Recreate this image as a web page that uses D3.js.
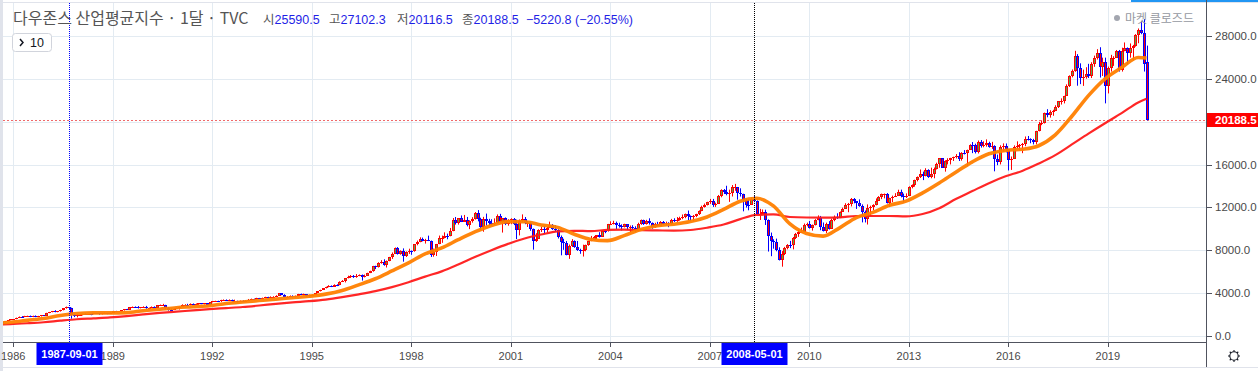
<!DOCTYPE html>
<html>
<head>
<meta charset="utf-8">
<script src="https://cdn.jsdelivr.net/npm/d3@7"></script>
<style>
  body { margin: 0; background: #fff; }
  svg { display: block; font-family: "Liberation Sans", Arial, sans-serif; }
</style>
</head>
<body>
<svg id="chart" width="1258" height="371"></svg>
<script>
// monthly bars, 1985-09 .. 2020-03
const firstMonth = new Date(1985, 8, 1);

const opens = [
  1334, 1329, 1374, 1472,
  1547, 1571, 1709, 1819, 1784, 1877, 1893, 1775, 1898, 1768, 1878, 1914,
  1896, 2158, 2224, 2305, 2286, 2292, 2419, 2572, 2663, 2596, 1994, 1834,
  1939, 1958, 2072, 1988, 2032, 2031, 2142, 2129, 2032, 2113, 2149, 2115,
  2169, 2342, 2258, 2294, 2419, 2480, 2440, 2661, 2737, 2693, 2645, 2706,
  2753, 2591, 2628, 2707, 2657, 2877, 2881, 2905, 2614, 2453, 2442, 2560,
  2634, 2736, 2882, 2914, 2888, 3028, 2907, 3025, 3044, 3017, 3069, 2895,
  3169, 3224, 3267, 3236, 3359, 3397, 3319, 3394, 3257, 3272, 3226, 3306,
  3301, 3310, 3371, 3435, 3428, 3527, 3516, 3540, 3651, 3555, 3681, 3684,
  3754, 3978, 3832, 3636, 3682, 3758, 3625, 3765, 3913, 3843, 3908, 3739,
  3834, 3844, 4011, 4158, 4321, 4465, 4556, 4709, 4611, 4789, 4756, 5075,
  5117, 5395, 5486, 5588, 5569, 5643, 5655, 5529, 5616, 5882, 6029, 6522,
  6448, 6813, 6878, 6584, 7009, 7331, 7673, 8223, 7622, 7945, 7442, 7823,
  7908, 7907, 8546, 8800, 9063, 8900, 8952, 8883, 7539, 7843, 8592, 9117,
  9181, 9359, 9307, 9786, 10789, 10560, 10971, 10655, 10829, 10337, 10729, 10878,
  11497, 10941, 10128, 10922, 10734, 10522, 10448, 10522, 11215, 10651, 10971, 10415,
  10788, 10887, 10495, 9879, 10735, 10912, 10502, 10523, 9950, 8848, 9075, 9852,
  10022, 9920, 10106, 10404, 9946, 9925, 9243, 8737, 8664, 7592, 8397, 8896,
  8342, 8054, 7891, 7992, 8480, 8850, 8985, 9234, 9416, 9275, 9801, 9782,
  10454, 10488, 10584, 10358, 10226, 10188, 10435, 10140, 10174, 10080, 10027, 10428,
  10783, 10490, 10766, 10504, 10193, 10467, 10275, 10641, 10482, 10569, 10440, 10806,
  10718, 10865, 10993, 11109, 11367, 11168, 11150, 11186, 11381, 11679, 12081, 12222,
  12463, 12622, 12269, 12354, 13063, 13628, 13409, 13212, 13358, 13896, 13930, 13372,
  13262, 12650, 12266, 12263, 12820, 12638, 11350, 11378, 11544, 10851, 9325, 8829,
  8776, 8001, 7063, 7609, 8168, 8500, 8447, 9172, 9496, 9712, 9713, 10345,
  10428, 10067, 10325, 10857, 11009, 10137, 9774, 10466, 10015, 10788, 11118, 11006,
  11578, 11892, 12226, 12320, 12811, 12570, 12414, 12143, 11614, 10913, 11955, 12046,
  12218, 12633, 12952, 13212, 13214, 12393, 12880, 13009, 13091, 13437, 13096, 13026,
  13104, 13861, 14054, 14579, 14840, 15116, 14910, 15500, 14810, 15130, 15546, 16086,
  16577, 15699, 16322, 16458, 16581, 16717, 16827, 16563, 17098, 17043, 17391, 17828,
  17823, 17165, 18133, 17776, 17841, 18011, 17620, 17690, 16528, 16285, 17664, 17720,
  17425, 16466, 16517, 17685, 17774, 17787, 17930, 18432, 18401, 18308, 18142, 19124,
  19763, 19864, 20812, 20663, 20941, 21009, 21350, 21891, 21948, 22405, 23377, 24272,
  24719, 26149, 25029, 24103, 24163, 24416, 24271, 25415, 25965, 26458, 25116, 25538,
  23327, 24999, 25916, 25929, 26593, 24815, 26600, 26864, 26403, 26917, 27046, 28051,
  28538, 28256, 25590.5
];

const highs = [
  1343, 1391, 1476, 1553,
  1571, 1714, 1822, 1856, 1882, 1894, 1910, 1900, 1920, 1880, 1916, 1955,
  2164, 2247, 2335, 2405, 2316, 2446, 2593, 2747, 2663, 2640, 2012, 2013,
  2056, 2075, 2114, 2048, 2061, 2159, 2159, 2147, 2131, 2183, 2150, 2181,
  2345, 2347, 2302, 2423, 2502, 2531, 2661, 2752, 2763, 2791, 2706, 2771,
  2810, 2655, 2759, 2766, 2879, 2935, 3000, 2911, 2680, 2562, 2583, 2650,
  2736, 2955, 2966, 3005, 3041, 3035, 3035, 3055, 3050, 3078, 3072, 3173,
  3272, 3290, 3290, 3378, 3413, 3413, 3414, 3398, 3393, 3296, 3313, 3333,
  3343, 3455, 3492, 3491, 3564, 3555, 3582, 3660, 3660, 3699, 3714, 3801,
  3990, 3996, 3898, 3718, 3786, 3794, 3775, 3933, 3953, 3950, 3915, 3863,
  3897, 4016, 4176, 4321, 4480, 4600, 4742, 4721, 4824, 4828, 5106, 5216,
  5404, 5630, 5690, 5690, 5778, 5745, 5741, 5733, 5904, 6094, 6547, 6561,
  6883, 7079, 7158, 7043, 7383, 7796, 8259, 8300, 7997, 8178, 7897, 8149,
  7982, 8587, 8906, 9211, 9185, 9069, 9367, 8912, 8154, 8592, 9374, 9374,
  9674, 9557, 10085, 11014, 11108, 10982, 11252, 11299, 11111, 10800, 11089, 11569,
  11750, 11041, 11119, 11426, 10936, 10898, 10976, 11350, 11401, 11011, 11068, 10899,
  10987, 11013, 10858, 10876, 11351, 11105, 10715, 10615, 10033, 9594, 9963, 10190,
  10259, 10171, 10673, 10447, 10342, 9966, 9379, 9077, 8868, 8538, 9043, 8926,
  8869, 8144, 8522, 8524, 8864, 9340, 9337, 9428, 9687, 9837, 9858, 10462,
  10702, 10754, 10678, 10571, 10420, 10479, 10435, 10316, 10341, 10239, 10572, 10868,
  10854, 10842, 10984, 10600, 10570, 10656, 10720, 10730, 10679, 10619, 10931, 10988,
  11100, 11134, 11342, 11425, 11709, 11250, 11292, 11410, 11724, 12163, 12361, 12529,
  12796, 12795, 12448, 13163, 13693, 13718, 14022, 13658, 14087, 14198, 13824, 13786,
  13280, 12815, 12761, 12920, 13136, 12657, 11866, 11808, 11790, 10882, 9654, 9026,
  9088, 8280, 7924, 8318, 8574, 8877, 9244, 9621, 9917, 10119, 10496, 10580,
  10730, 10402, 10908, 11258, 11205, 10595, 10584, 10720, 10948, 11247, 11452, 11625,
  11984, 12391, 12419, 12876, 12876, 12571, 12753, 12284, 11716, 12284, 12163, 12299,
  12842, 13055, 13290, 13297, 13339, 12899, 13103, 13330, 13653, 13662, 13289, 13311,
  13970, 14149, 14585, 14888, 15542, 15340, 15658, 15560, 15709, 15721, 16175, 16589,
  16588, 16399, 16588, 16632, 16736, 16978, 17152, 17154, 17350, 17395, 17895, 18103,
  17951, 18244, 18289, 18175, 18351, 18137, 18120, 17800, 16933, 17799, 17978, 17969,
  17425, 16756, 17790, 18168, 17920, 18016, 18623, 18668, 18450, 18400, 19152, 19987,
  20126, 20851, 21169, 21070, 21113, 21535, 21929, 22179, 22420, 23486, 24328, 24876,
  26617, 26307, 25450, 24858, 25086, 25403, 25551, 26167, 26770, 26952, 25980, 25980,
  25150, 26242, 26110, 26695, 26696, 26908, 27398, 26933, 27306, 27169, 28175, 28702,
  29374, 29568, 27102.3
];

const lows = [
  1297, 1324, 1370, 1457,
  1502, 1569, 1686, 1737, 1758, 1827, 1763, 1763, 1755, 1758, 1816, 1874,
  1895, 2131, 2214, 2216, 2215, 2278, 2394, 2545, 2493, 1616, 1767, 1739,
  1879, 1925, 1976, 1967, 1941, 2028, 2073, 1990, 2015, 2093, 2038, 2093,
  2144, 2241, 2238, 2283, 2371, 2437, 2432, 2644, 2654, 2569, 2577, 2677,
  2543, 2564, 2622, 2599, 2639, 2843, 2859, 2483, 2365, 2344, 2431, 2553,
  2470, 2714, 2830, 2869, 2857, 2906, 2905, 2900, 2963, 2944, 2860, 2836,
  3144, 3197, 3208, 3181, 3332, 3264, 3260, 3216, 3250, 3136, 3195, 3236,
  3240, 3307, 3346, 3343, 3419, 3461, 3469, 3522, 3532, 3543, 3615, 3676,
  3744, 3810, 3566, 3556, 3645, 3606, 3611, 3748, 3826, 3792, 3680, 3673,
  3822, 3836, 3999, 4158, 4299, 4437, 4550, 4566, 4600, 4656, 4737, 5039,
  5000, 5375, 5417, 5423, 5438, 5586, 5170, 5466, 5602, 5868, 6001, 6242,
  6391, 6748, 6561, 6392, 6976, 7197, 7660, 7601, 7589, 6937, 7376, 7659,
  7580, 7867, 8466, 8750, 8836, 8627, 8858, 7379, 7400, 7467, 8568, 8695,
  9120, 9028, 9306, 9778, 10398, 10397, 10635, 10646, 10232, 9976, 10581, 10869,
  10701, 9862, 9731, 10305, 10299, 10368, 10358, 10477, 10582, 9654, 10351, 10298,
  10434, 10349, 9047, 9390, 10668, 10433, 10175, 9817, 8062, 8785, 9056, 9708,
  9529, 9679, 10100, 9900, 9751, 9100, 7532, 8043, 7528, 7197, 8303, 8232,
  7946, 7673, 7416, 7905, 8421, 8850, 8940, 9032, 9186, 9264, 9594, 9739,
  10368, 10413, 9990, 10120, 9853, 10134, 9913, 9708, 9988, 9708, 10016, 10375,
  10368, 10398, 10402, 10012, 10094, 10252, 10255, 10387, 10349, 10156, 10395, 10640,
  10653, 10767, 10900, 10994, 10826, 10699, 10706, 11092, 11292, 11650, 11986, 12184,
  12330, 12050, 12050, 12332, 12946, 13251, 13133, 12518, 13019, 13551, 12724, 13017,
  11635, 11988, 11731, 12251, 12480, 11288, 10827, 11363, 10365, 7882, 7449, 8149,
  7909, 7050, 6470, 7550, 8088, 8200, 8087, 9049, 9252, 9674, 9678, 10236,
  10026, 9835, 10320, 10803, 9870, 9757, 9614, 9937, 10001, 10710, 10930, 11004,
  11578, 11853, 11555, 12093, 12381, 11862, 12063, 10604, 10597, 10404, 11231, 11735,
  12190, 12623, 12775, 12846, 12367, 12035, 12492, 12977, 13090, 12938, 12471, 12883,
  13090, 13784, 13937, 14434, 14746, 14551, 14903, 14761, 14719, 14720, 15545, 15703,
  15699, 15340, 16016, 16015, 16334, 16571, 16333, 16368, 16945, 15855, 17365, 17068,
  17037, 17037, 17585, 17613, 17673, 17576, 17465, 15370, 15942, 16013, 17211, 17139,
  15450, 15503, 16545, 17484, 17331, 17063, 17713, 18247, 17992, 17883, 17884, 19098,
  19677, 19832, 20412, 20379, 20554, 20994, 21279, 21600, 21709, 22416, 23242, 24140,
  24660, 23360, 23509, 23345, 24013, 24079, 24077, 25123, 25804, 24122, 24268, 21713,
  22639, 24680, 25209, 25946, 24680, 24680, 26580, 25339, 25980, 25743, 27005, 27325,
  28169, 24681, 20116.5
];

const closes = [
  1329, 1374, 1472, 1547,
  1571, 1709, 1819, 1784, 1877, 1893, 1775, 1898, 1768, 1878, 1914, 1896,
  2158, 2224, 2305, 2286, 2292, 2419, 2572, 2663, 2596, 1994, 1834, 1939,
  1958, 2072, 1988, 2032, 2031, 2142, 2129, 2032, 2113, 2149, 2115, 2169,
  2342, 2258, 2294, 2419, 2480, 2440, 2661, 2737, 2693, 2645, 2706, 2753,
  2591, 2628, 2707, 2657, 2877, 2881, 2905, 2614, 2453, 2442, 2560, 2634,
  2736, 2882, 2914, 2888, 3028, 2907, 3025, 3044, 3017, 3069, 2895, 3169,
  3224, 3267, 3236, 3359, 3397, 3319, 3394, 3257, 3272, 3226, 3306, 3301,
  3310, 3371, 3435, 3428, 3527, 3516, 3540, 3651, 3555, 3681, 3684, 3754,
  3978, 3832, 3636, 3682, 3758, 3625, 3765, 3913, 3843, 3908, 3739, 3834,
  3844, 4011, 4158, 4321, 4465, 4556, 4709, 4611, 4789, 4756, 5075, 5117,
  5395, 5486, 5588, 5569, 5643, 5655, 5529, 5616, 5882, 6029, 6522, 6448,
  6813, 6878, 6584, 7009, 7331, 7673, 8223, 7622, 7945, 7442, 7823, 7908,
  7907, 8546, 8800, 9063, 8900, 8952, 8883, 7539, 7843, 8592, 9117, 9181,
  9359, 9307, 9786, 10789, 10560, 10971, 10655, 10829, 10337, 10729, 10878, 11497,
  10941, 10128, 10922, 10734, 10522, 10448, 10522, 11215, 10651, 10971, 10415, 10788,
  10887, 10495, 9879, 10735, 10912, 10502, 10523, 9950, 8848, 9075, 9852, 10022,
  9920, 10106, 10404, 9946, 9925, 9243, 8737, 8664, 7592, 8397, 8896, 8342,
  8054, 7891, 7992, 8480, 8850, 8985, 9234, 9416, 9275, 9801, 9782, 10454,
  10488, 10584, 10358, 10226, 10188, 10435, 10140, 10174, 10080, 10027, 10428, 10783,
  10490, 10766, 10504, 10193, 10467, 10275, 10641, 10482, 10569, 10440, 10806, 10718,
  10865, 10993, 11109, 11367, 11168, 11150, 11186, 11381, 11679, 12081, 12222, 12463,
  12622, 12269, 12354, 13063, 13628, 13409, 13212, 13358, 13896, 13930, 13372, 13265,
  12650, 12266, 12263, 12820, 12638, 11350, 11378, 11544, 10851, 9325, 8829, 8776,
  8001, 7063, 7609, 8168, 8500, 8447, 9172, 9496, 9712, 9713, 10345, 10428,
  10067, 10325, 10857, 11009, 10137, 9774, 10466, 10015, 10788, 11118, 11006, 11578,
  11892, 12226, 12320, 12811, 12570, 12414, 12143, 11614, 10913, 11955, 12046, 12218,
  12633, 12952, 13212, 13214, 12393, 12880, 13009, 13091, 13437, 13096, 13026, 13104,
  13861, 14054, 14579, 14840, 15116, 14910, 15500, 14810, 15130, 15546, 16086, 16577,
  15699, 16322, 16458, 16581, 16717, 16827, 16563, 17098, 17043, 17391, 17828, 17823,
  17165, 18133, 17776, 17841, 18011, 17620, 17690, 16528, 16285, 17664, 17720, 17425,
  16466, 16517, 17685, 17774, 17787, 17930, 18432, 18401, 18308, 18142, 19124, 19763,
  19864, 20812, 20663, 20941, 21009, 21350, 21891, 21948, 22405, 23377, 24272, 24719,
  26149, 25029, 24103, 24163, 24416, 24271, 25415, 25965, 26458, 25116, 25538, 23327,
  24999, 25916, 25929, 26593, 24815, 26600, 26864, 26403, 26917, 27046, 28051, 28538,
  28256, 25409, 20188.5
];

// moving averages (orange = 20, red = 60), every half year
const maMonths = [
  "1985-06","1985-12","1986-06","1986-12","1987-06","1987-12","1988-06","1988-12",
  "1989-06","1989-12","1990-06","1990-12","1991-06","1991-12","1992-06","1992-12",
  "1993-06","1993-12","1994-06","1994-12","1995-06","1995-12","1996-06","1996-12",
  "1997-06","1997-12","1998-06","1998-12","1999-06","1999-12","2000-06","2000-12",
  "2001-06","2001-12","2002-06","2002-12","2003-06","2003-12","2004-06","2004-12",
  "2005-06","2005-12","2006-06","2006-12","2007-06","2007-12","2008-06","2008-12",
  "2009-06","2009-12","2010-06","2010-12","2011-06","2011-12","2012-06","2012-12",
  "2013-06","2013-12","2014-06","2014-12","2015-06","2015-12","2016-06","2016-12",
  "2017-06","2017-12","2018-06","2018-12","2019-06","2019-12","2020-03"
];
const ma20 = [
  1216, 1281, 1459, 1638, 1913, 2098, 2161, 2154,
  2185, 2360, 2500, 2644, 2735, 2831, 3029, 3178,
  3311, 3440, 3577, 3712, 3908, 4246, 4771, 5344,
  6067, 6819, 7671, 8219, 8987, 9712, 10322, 10672,
  10665, 10361, 10137, 9493, 9015, 8901, 9368, 9931,
  10296, 10437, 10677, 11111, 11811, 12580, 12852, 12138,
  10456, 9567, 9321, 10097, 11050, 11541, 12203, 12584,
  13352, 14277, 15293, 16256, 17006, 17324, 17430, 17758,
  18770, 20507, 22439, 24005, 25050, 25993, 25946
];
const ma60 = [
  1063, 1108, 1188, 1285, 1430, 1562, 1649, 1737,
  1859, 2010, 2153, 2273, 2385, 2503, 2605, 2707,
  2847, 2999, 3137, 3251, 3401, 3625, 3892, 4188,
  4563, 5017, 5543, 6031, 6669, 7367, 8006, 8598,
  9099, 9470, 9758, 9819, 9787, 9900, 9925, 9871,
  9854, 9839, 9893, 10105, 10402, 10909, 11304, 11350,
  11108, 11062, 11054, 11075, 11202, 11200, 11199, 11161,
  11384, 11933, 12780, 13528, 14267, 14906, 15405, 16093,
  16882, 17880, 18893, 19862, 20800, 21801, 22147
];

const yTicks = [0, 4000, 8000, 12000, 16000, 20000, 24000, 28000];
const xTickYears = [1986, 1989, 1992, 1995, 1998, 2001, 2004, 2007, 2010, 2013, 2016, 2019];
const crosshairs = [
  { month: "1987-09", label: "1987-09-01", color: "#0000ff" },
  { month: "2008-05", label: "2008-05-01", color: "#000000" }
];
const lastPrice = 20188.5;

// ---------- layout ----------
const W = 1258, H = 371;
const PLOT = { left: 3, right: 1206, top: 3, bottom: 342 };
const UP = "#ff0000", DOWN = "#0000ff", UP_BODY = "#4caf50", DOWN_BODY = "#ff0000";

const monthIndex = s => {
  const [yy, mm] = s.split("-").map(Number);
  return (yy - firstMonth.getFullYear()) * 12 + (mm - 1) - firstMonth.getMonth();
};

const x = d3.scaleLinear().domain([0, 414]).range([2.2, 1146.5]);
const y = d3.scaleLinear().domain([0, 28000]).range([336, 36]);

const svg = d3.select("#chart");

svg.append("defs").append("clipPath").attr("id", "plot")
  .append("rect")
  .attr("x", PLOT.left).attr("y", PLOT.top)
  .attr("width", PLOT.right - PLOT.left).attr("height", PLOT.bottom - PLOT.top);

svg.append("rect").attr("width", W).attr("height", H).attr("fill", "#fff");
svg.append("rect").attr("x", 0).attr("y", 0).attr("width", 3).attr("height", H).attr("fill", "#e0e3eb");
svg.append("line").attr("x1", 3).attr("x2", W).attr("y1", 2.5).attr("y2", 2.5).attr("stroke", "#e0e3eb");
svg.append("rect").attr("x", 1131).attr("y", 0).attr("width", W - 1131).attr("height", 2).attr("fill", "#2196f3");

// grid
const grid = svg.append("g");
grid.selectAll("line.v").data(xTickYears).join("line")
  .attr("x1", d => Math.round(x(monthIndex(d + "-01"))) + 0.5)
  .attr("x2", d => Math.round(x(monthIndex(d + "-01"))) + 0.5)
  .attr("y1", PLOT.top).attr("y2", PLOT.bottom)
  .attr("stroke", "#e3ebf2");
grid.selectAll("line.h").data(yTicks).join("line")
  .attr("x1", PLOT.left).attr("x2", PLOT.right)
  .attr("y1", d => Math.round(y(d)) + 0.5).attr("y2", d => Math.round(y(d)) + 0.5)
  .attr("stroke", "#e3ebf2");

const data = closes.map((c, i) => ({ i, o: opens[i], h: highs[i], l: lows[i], c }));

const plot = svg.append("g").attr("clip-path", "url(#plot)");

// last price line
plot.append("line")
  .attr("x1", PLOT.left).attr("x2", PLOT.right)
  .attr("y1", Math.round(y(lastPrice)) + 0.5).attr("y2", Math.round(y(lastPrice)) + 0.5)
  .attr("stroke", "#f06a6a").attr("stroke-dasharray", "2,2");

// candles
const barX = d => Math.round(x(d.i));
const bodyTop = d => Math.round(y(Math.max(d.o, d.c)));
const bodyH = d => Math.max(1, Math.round(y(Math.min(d.o, d.c))) - bodyTop(d));

plot.selectAll("line.wick").data(data).join("line")
  .attr("x1", d => barX(d) + 0.5).attr("x2", d => barX(d) + 0.5)
  .attr("y1", d => y(d.h)).attr("y2", d => y(d.l))
  .attr("stroke", d => d.c >= d.o ? UP : DOWN);

plot.selectAll("rect.body").data(data).join("rect")
  .attr("x", d => barX(d) - 1).attr("width", 3)
  .attr("y", bodyTop).attr("height", bodyH)
  .attr("fill", d => d.c >= d.o ? UP : DOWN);

plot.selectAll("rect.fill").data(data.filter(d => bodyH(d) > 2)).join("rect")
  .attr("x", d => barX(d)).attr("width", 1)
  .attr("y", d => bodyTop(d) + 1).attr("height", d => bodyH(d) - 2)
  .attr("fill", d => d.c >= d.o ? UP_BODY : DOWN_BODY);

// moving averages
const maPts = vals => maMonths.map((m, k) => ({ i: monthIndex(m), v: vals[k] }));
const line = d3.line().x(d => x(d.i)).y(d => y(d.v)).curve(d3.curveMonotoneX);

plot.append("path").datum(maPts(ma60)).attr("d", line)
  .attr("fill", "none").attr("stroke", "#ff1a1a").attr("stroke-width", 2.2)
  .attr("stroke-opacity", 0.95);
plot.append("path").datum(maPts(ma20)).attr("d", line)
  .attr("fill", "none").attr("stroke", "#ff7f00").attr("stroke-width", 3.6)
  .attr("stroke-opacity", 0.95);

// crosshair verticals
svg.selectAll("line.cross").data(crosshairs).join("line")
  .attr("x1", d => barX({ i: monthIndex(d.month) }) + 0.5)
  .attr("x2", d => barX({ i: monthIndex(d.month) }) + 0.5)
  .attr("y1", 3).attr("y2", PLOT.bottom)
  .attr("stroke", d => d.color).attr("stroke-dasharray", "1,1");

// x axis
svg.append("line").attr("x1", PLOT.left).attr("x2", PLOT.right)
  .attr("y1", 342.5).attr("y2", 342.5).attr("stroke", "#50535e");
const xAxis = svg.append("g").attr("font-size", 11).attr("fill", "#4a4a4a");
xAxis.selectAll("line").data(xTickYears).join("line")
  .attr("x1", d => Math.round(x(monthIndex(d + "-01"))) + 0.5)
  .attr("x2", d => Math.round(x(monthIndex(d + "-01"))) + 0.5)
  .attr("y1", 343).attr("y2", 347).attr("stroke", "#50535e");
xAxis.selectAll("text").data(xTickYears).join("text")
  .attr("x", d => x(monthIndex(d + "-01"))).attr("y", 360)
  .attr("text-anchor", "middle").text(d => d);

// crosshair date labels
const cl = svg.selectAll("g.cl").data(crosshairs).join("g");
cl.append("rect")
  .attr("x", d => barX({ i: monthIndex(d.month) }) - 32.5).attr("y", 343)
  .attr("width", 66).attr("height", 22).attr("fill", "#0000ff");
cl.append("text")
  .attr("x", d => barX({ i: monthIndex(d.month) }) + 0.5).attr("y", 358)
  .attr("text-anchor", "middle").attr("fill", "#fff")
  .attr("font-size", 11).attr("font-weight", "bold").text(d => d.label);

// y axis
svg.append("line").attr("x1", 1206.5).attr("x2", 1206.5).attr("y1", 0).attr("y2", 367)
  .attr("stroke", "#50535e");
const yAxis = svg.append("g").attr("font-size", 11.5).attr("fill", "#4a4a4a");
yAxis.selectAll("line").data(yTicks).join("line")
  .attr("x1", 1207).attr("x2", 1212)
  .attr("y1", d => Math.round(y(d)) + 0.5).attr("y2", d => Math.round(y(d)) + 0.5)
  .attr("stroke", "#50535e");
yAxis.selectAll("text").data(yTicks).join("text")
  .attr("x", 1215).attr("y", d => y(d) + 4).text(d => d3.format(".1f")(d));

// last price tag
svg.append("rect").attr("x", 1207).attr("y", Math.round(y(lastPrice)) - 7)
  .attr("width", W - 1207).attr("height", 14).attr("fill", "#ff0000");
svg.append("text").attr("x", 1215).attr("y", y(lastPrice) + 4)
  .attr("font-size", 11.5).attr("font-weight", "bold").attr("fill", "#fff")
  .text(d3.format(".1f")(lastPrice));

// bottom border + settings icon
svg.append("line").attr("x1", 3).attr("x2", W).attr("y1", 367.5).attr("y2", 367.5).attr("stroke", "#e0e3eb");
const gear = svg.append("g").attr("transform", "translate(1234,356)")
  .attr("stroke", "#131722").attr("fill", "none").attr("stroke-width", 1.1);
gear.append("circle").attr("r", 4.2);
gear.selectAll("line").data(d3.range(8)).join("line")
  .attr("x1", d => 4.2 * Math.cos(d * Math.PI / 4)).attr("y1", d => 4.2 * Math.sin(d * Math.PI / 4))
  .attr("x2", d => 6 * Math.cos(d * Math.PI / 4)).attr("y2", d => 6 * Math.sin(d * Math.PI / 4));

// header
const header = svg.append("g");
header.append("text").attr("x", 13).attr("y", 24)
  .attr("font-family", "'Noto Sans CJK KR', 'Liberation Sans', sans-serif")
  .attr("font-size", 16).attr("fill", "#555")
  .text("다우존스 산업평균지수 · 1달 · TVC");

const ohlc = [
  { k: "시", v: "25590.5", x: 263 },
  { k: "고", v: "27102.3", x: 329 },
  { k: "저", v: "20116.5", x: 397 },
  { k: "종", v: "20188.5", x: 462 },
  { k: "", v: "−5220.8 (−20.55%)", x: 526 }
];
const ot = header.selectAll("text.ohlc").data(ohlc).join("text")
  .attr("x", d => d.x).attr("y", 24).attr("font-size", 12.5);
ot.append("tspan").attr("fill", "#555")
  .attr("font-family", "'Noto Sans CJK KR', sans-serif").text(d => d.k);
ot.append("tspan").attr("fill", "#1f1fe6").text(d => d.v);

// interval button
svg.append("rect").attr("x", 12.5).attr("y", 33.5).attr("width", 39).attr("height", 18)
  .attr("rx", 3).attr("fill", "#fff").attr("stroke", "#d1d4dc");
svg.append("path").attr("d", "M20,39 L23,42.5 L20,46").attr("fill", "none")
  .attr("stroke", "#131722").attr("stroke-width", 1.5);
svg.append("text").attr("x", 30).attr("y", 47).attr("font-size", 12.5).attr("fill", "#131722").text("10");

// market status
svg.append("circle").attr("cx", 1117).attr("cy", 18).attr("r", 3).attr("fill", "#a3a6af");
svg.append("text").attr("x", 1125).attr("y", 22.5)
  .attr("font-family", "'Noto Sans CJK KR', sans-serif")
  .attr("font-size", 12).attr("fill", "#9598a1").text("마켓 클로즈드");
</script>
</body>
</html>
